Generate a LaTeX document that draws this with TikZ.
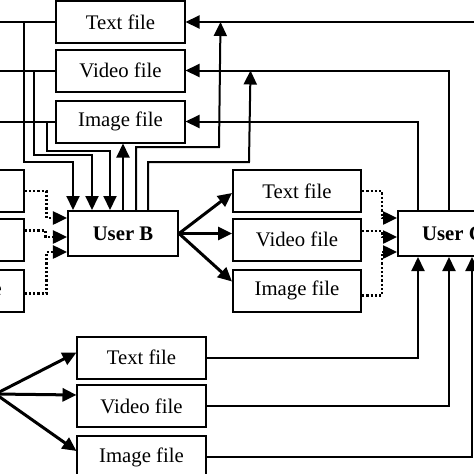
\documentclass[tikz,border=0pt]{standalone}
\usepackage{fontspec}
\setmainfont{Liberation Serif}
\usetikzlibrary{positioning, arrows.meta, calc}

\begin{document}
\begin{tikzpicture}[
    x=0.2mm, y=-0.2mm,
    font=\fontsize{11.8}{14}\selectfont,
    filebox/.style={rectangle, draw, line width=0.4mm, minimum width=25.6mm,
                    minimum height=8.4mm, inner sep=0pt, align=center},
    userbox/.style={rectangle, draw, line width=0.4mm, minimum width=22mm,
                    minimum height=9mm, inner sep=0pt, font=\fontsize{11.8}{14}\selectfont\bfseries},
    wire/.style={line width=0.4mm},
    arrow/.style={-{Triangle[length=2.8mm, width=2.6mm]}, line width=0.4mm},
    thickarrow/.style={arrow, line width=0.6mm},
    dotarrow/.style={arrow, line width=0.5mm, dash pattern=on 0.45mm off 0.4mm}
]
\useasboundingbox (0,0) rectangle (474,474);
\clip (0,0) rectangle (474,474);

% --- Usuarios ---
\node[userbox] (user_b) at (123,233.5) {User B};
\node[userbox] (user_c) at (453,233.5) {User C};

% --- Archivos arriba ---
\node[filebox] (top_text) at (120.5,22) {Text file};
\node[filebox, below=0.9mm of top_text] (top_video) {Video file};
\node[filebox, below=1.4mm of top_video] (top_image) {Image file};

% --- Archivos a la izquierda ---
\node[filebox] (left_text) at (-40.5,191) {Text file};
\node[filebox, below=0.9mm of left_text] (left_video) {Video file};
\node[filebox, below=1.4mm of left_video] (left_image) {Image file};

% --- Archivos en el centro ---
\node[filebox] (mid_text) at (297,191) {Text file};
\node[filebox, below=0.9mm of mid_text] (mid_video) {Video file};
\node[filebox, below=1.4mm of mid_video] (mid_image) {Image file};

% --- Archivos abajo ---
\node[filebox] (bot_text) at (141.5,357.5) {Text file};
\node[filebox, below=0.9mm of bot_text] (bot_video) {Video file};
\node[filebox, below=1.4mm of bot_video] (bot_image) {Image file};

% --- Extremos fuera del cuadro ---
\coordinate[left=15mm of top_text.west] (from_a1);
\coordinate[left=15mm of top_video.west] (from_a2);
\coordinate[left=15mm of top_image.west] (from_a3);
\coordinate[right=60mm of top_text.east] (from_c);
\coordinate[below left=7.3mm and 16.2mm of bot_text.west] (from_d);

% --- Lineas de arriba ---
\draw[wire] (from_a1) -- (top_text.west);
\draw[wire] (from_a2) -- (top_video.west);
\draw[wire] (from_a3) -- (top_image.west);
\draw[arrow] (from_c) -- (top_text.east);
\draw[arrow] ($(user_c.north)+(-4,0)$) |- (top_video.east);
\draw[arrow] ($(user_c.north)+(-35,0)$) |- (top_image.east);

\draw[arrow] ($(top_text.west)+(-31,0)$) |- ($(user_b.north)+(-50,-48)$) -- ($(user_b.north)+(-50,0)$);
\draw[arrow] ($(top_video.west)+(-21,0)$) |- ($(user_b.north)+(-31,-55)$) -- ($(user_b.north)+(-31,0)$);
\draw[arrow] ($(top_image.west)+(-8,0)$) |- ($(user_b.north)+(-13,-59)$) -- ($(user_b.north)+(-13,0)$);

\draw[arrow] (user_b.north) -- (user_b.north |- top_image.south);
\draw[arrow] ($(user_b.north)+(13,0)$) |- ($(user_b.north)+(96,-63)$) -- ($(top_text.east)+(35,0)$);
\draw[arrow] ($(user_b.north)+(25,0)$) |- ($(user_b.north)+(126,-48)$) -- ($(top_video.east)+(65,0)$);

% --- Punteadas hacia User B ---
\draw[dotarrow] (left_text.east) -- ++(22,0) |- ($(user_b.west)+(0,-15.5)$);
\draw[dotarrow] ($(left_video.east)+(0,-9)$) -- ++(21,0) |- ($(user_b.west)+(0,3.5)$);
\draw[dotarrow] ($(left_image.east)+(0,3)$) -- ++(22,0) |- ($(user_b.west)+(0,18.5)$);

% --- User B envia ---
\draw[thickarrow] (user_b.east) -- ($(mid_text.west)+(0,2)$);
\draw[thickarrow] (user_b.east) -- (user_b.east -| mid_video.west);
\draw[thickarrow] (user_b.east) -- ($(mid_image.west)+(0,-9)$);

% --- Punteadas hacia User C ---
\draw[dotarrow] (mid_text.east) -- ++(20,0) |- ($(user_c.west)+(0,-15.5)$);
\draw[dotarrow] ($(mid_video.east)+(0,-8.5)$) -- ++(20,0) |- ($(user_c.west)+(0,3.5)$);
\draw[dotarrow] ($(mid_image.east)+(0,5)$) -- ++(20,0) |- ($(user_c.west)+(0,18.5)$);

% --- Abajo ---
\draw[thickarrow] (from_d) -- ($(bot_text.west)+(0,-5)$);
\draw[thickarrow] (from_d) -- ($(bot_video.west)+(0,-11)$);
\draw[thickarrow] (from_d) -- ($(bot_image.west)+(0,-6)$);

\draw[arrow] (bot_text.east) -| ($(user_c.south)+(-35,0)$);
\draw[arrow] (bot_video.east) -| ($(user_c.south)+(-4,0)$);
\draw[arrow] (bot_image.east) -| ($(user_c.south)+(19,0)$);

\end{tikzpicture}
\end{document}
